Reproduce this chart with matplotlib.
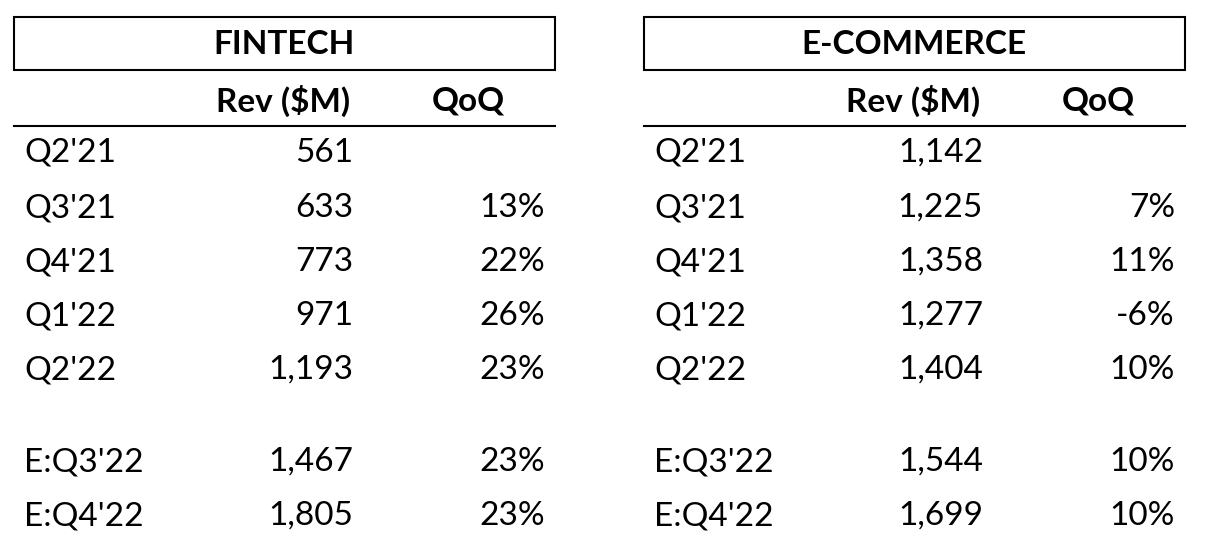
import matplotlib
matplotlib.use("Agg")
import matplotlib.pyplot as plt
from matplotlib.patches import Rectangle

quarters = ["Q2'21", "Q3'21", "Q4'21", "Q1'22", "Q2'22", "E:Q3'22", "E:Q4'22"]
fintech_rev = ["561", "633", "773", "971", "1,193", "1,467", "1,805"]
fintech_qoq = ["", "13%", "22%", "26%", "23%", "23%", "23%"]
ecom_rev = ["1,142", "1,225", "1,358", "1,277", "1,404", "1,544", "1,699"]
ecom_qoq = ["", "7%", "11%", "-6%", "10%", "10%", "10%"]

row_y = [153, 208, 262, 316, 370, 462, 516]
FONT = ["Lato", "DejaVu Sans"]
FS = 24

fig = plt.figure(figsize=(12.06, 5.54), dpi=100)
ax = fig.add_axes([0, 0, 1, 1])
ax.set_xlim(0, 1206)
ax.set_ylim(554, 0)
ax.axis("off")


def draw_block(x0, title, revs, qoqs):
    ax.add_patch(Rectangle((x0, 17), 541, 53, fill=False, lw=1.5, ec="black"))
    ax.text(x0 + 270, 45, title, ha="center", va="center", fontsize=FS,
            fontweight="bold", family=FONT)
    ax.text(x0 + 269, 101, "Rev ($M)", ha="center", va="center", fontsize=FS,
            fontweight="bold", family=FONT)
    ax.text(x0 + 454, 101, "QoQ", ha="center", va="center", fontsize=FS,
            fontweight="bold", family=FONT)
    ax.plot([x0, x0 + 541], [126, 126], color="black", lw=1.5)
    for y, q, r, g in zip(row_y, quarters, revs, qoqs):
        ax.text(x0 + 10, y, q, ha="left", va="center", fontsize=FS, family=FONT)
        ax.text(x0 + 339, y, r, ha="right", va="center", fontsize=FS, family=FONT)
        ax.text(x0 + 531, y, g, ha="right", va="center", fontsize=FS, family=FONT)


draw_block(14, "FINTECH", fintech_rev, fintech_qoq)
draw_block(644, "E-COMMERCE", ecom_rev, ecom_qoq)

fig.savefig("out.png", dpi=100, facecolor="white")
